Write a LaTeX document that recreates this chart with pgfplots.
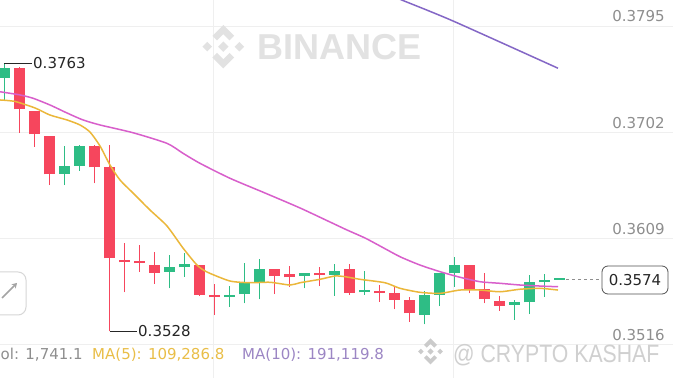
\documentclass[border=0pt]{standalone}
\usepackage{fontspec}
\setmainfont{DejaVu Sans}
\newfontfamily\lib{Liberation Sans}
\usepackage{pgfplots}
\pgfplotsset{compat=1.18}
\usepackage{pgfplotstable}
\usetikzlibrary{arrows.meta}
\definecolor{cred}{HTML}{F6465D}
\definecolor{cgreen}{HTML}{2EBD85}
\definecolor{cma5}{HTML}{EBB73A}
\definecolor{cma10}{HTML}{D85FCB}
\definecolor{cma30}{HTML}{8467C6}
\definecolor{cgrid}{HTML}{EFEFEF}
\definecolor{clab}{HTML}{8E8E8E}
\definecolor{cdark}{HTML}{262626}
\definecolor{cwm}{HTML}{E2E2E2}
\definecolor{ctxt5}{HTML}{E9BE48}
\definecolor{ctxt10}{HTML}{9C86C4}

% k = candle index, o c h l = open close high low
\pgfplotstableread{
k o c h l
1 0.37582 0.37220 0.37590 0.37015
2 0.37208 0.37001 0.37208 0.36893
3 0.36986 0.36651 0.36986 0.36557
6 0.36899 0.36712 0.36905 0.36572
7 0.36717 0.35915 0.36908 0.35280
8 0.35900 0.35880 0.36052 0.35617
9 0.35890 0.35870 0.36032 0.35798
10 0.35856 0.35789 0.35973 0.35690
13 0.35852 0.35594 0.35852 0.35585
14 0.35592 0.35572 0.35687 0.35418
18 0.35819 0.35763 0.35824 0.35602
19 0.35780 0.35749 0.35845 0.35664
21 0.35789 0.35766 0.35836 0.35672
23 0.35819 0.35614 0.35865 0.35594
25 0.35631 0.35608 0.35681 0.35535
26 0.35608 0.35550 0.35666 0.35468
27 0.35550 0.35433 0.35579 0.35360
31 0.35856 0.35644 0.35856 0.35608
32 0.35644 0.35556 0.35784 0.35521
33 0.35541 0.35500 0.35585 0.35456
}\redt
\pgfplotstableread{
k o c h l
0 0.37495 0.37582 0.37630 0.37302
4 0.36654 0.36724 0.36901 0.36557
5 0.36724 0.36901 0.36908 0.36682
11 0.35798 0.35841 0.35944 0.35652
12 0.35836 0.35862 0.35964 0.35754
15 0.35576 0.35596 0.35672 0.35491
16 0.35600 0.35701 0.35877 0.35521
17 0.35705 0.35821 0.35906 0.35556
20 0.35760 0.35782 0.35789 0.35652
22 0.35769 0.35806 0.35865 0.35585
24 0.35617 0.35637 0.35806 0.35594
28 0.35418 0.35594 0.35631 0.35337
29 0.35594 0.35784 0.35789 0.35497
30 0.35784 0.35856 0.35929 0.35666
34 0.35506 0.35535 0.35550 0.35375
35 0.35530 0.35710 0.35769 0.35427
36 0.35705 0.35722 0.35778 0.35579
37 0.35725 0.35740 0.35742 0.35725
}\greent
\pgfplotstableread{
k p
-0.3 0.37302
0.7 0.37289
2.033 0.37232
3.033 0.37170
4.167 0.37127
5.033 0.37083
5.7 0.37021
6.367 0.36899
7.033 0.36732
7.7 0.36601
8.567 0.36487
9.7 0.36338
10.833 0.36198
11.9 0.36005
12.833 0.35856
13.5 0.35795
15.033 0.35716
16.367 0.35701
17.7 0.35705
19.033 0.35681
19.7 0.35701
21.033 0.35731
22.033 0.35760
22.7 0.35754
23.7 0.35731
25.367 0.35701
26.367 0.35652
27.7 0.35617
29.033 0.35608
30.367 0.35637
31.7 0.35637
33.033 0.35622
34.367 0.35644
35.7 0.35652
36.9 0.35637
}\mafive
\pgfplotstableread{
k p
-0.3 0.37374
1.033 0.37346
1.9 0.37317
3.033 0.37258
4.167 0.37188
5.233 0.37127
6.367 0.37083
8.567 0.37015
10.833 0.36922
11.9 0.36835
13.033 0.36747
15.033 0.36616
17.367 0.36487
19.7 0.36356
21.7 0.36233
22.833 0.36163
24.033 0.36093
25.033 0.36023
26.367 0.35929
27.7 0.35856
29.033 0.35798
30.367 0.35749
31.7 0.35710
33.033 0.35696
34.367 0.35681
35.7 0.35672
36.9 0.35666
}\maten
\pgfplotstableread{
k p
25.7 0.38222
26.48 0.38178
29.9 0.37994
36.9 0.37580
}\mathirty

\newcommand\bnlogo{%
  \fill (0,0.24)--(0.24,0)--(0,-0.24)--(-0.24,0)--cycle;
  \fill (-0.74,0.22)--(-0.52,0)--(-0.74,-0.22)--(-0.96,0)--cycle;
  \fill (0.74,0.22)--(0.52,0)--(0.74,-0.22)--(0.96,0)--cycle;
  \fill (0,1)--(0.5,0.5)--(0.29,0.29)--(0,0.58)--(-0.29,0.29)--(-0.5,0.5)--cycle;
  \fill (0,-1)--(0.5,-0.5)--(0.29,-0.29)--(0,-0.58)--(-0.29,-0.29)--(-0.5,-0.5)--cycle;
}

\begin{document}
\begin{tikzpicture}
\useasboundingbox (0,0) rectangle (673bp,378bp);
\fill[white] (0,0) rectangle (673bp,378bp);
% grid (background)
\begin{scope}[shift={(0,378bp)}, x=1bp, y=-1bp]
  \foreach \gy in {26,132.5,238.5,344.5} \draw[cgrid, line width=0.9bp] (0,\gy) -- (673,\gy);
  \foreach \gx in {213.5,453.5} \draw[cgrid, line width=0.9bp] (\gx,0) -- (\gx,378);
\end{scope}
\begin{axis}[
  at={(0,0)}, anchor=south west, scale only axis,
  width=673bp, height=378bp,
  xmin=-0.3, xmax=44.567, ymin=0.348665, ymax=0.381778,
  hide axis,
  clip=true,
]
% wicks
\addplot[draw=none, mark=none, forget plot, error bars/.cd, y dir=plus, y explicit, error mark=none,
  error bar style={draw=cred, line width=1.6bp}]
  table[x=k, y=l, y error plus expr=\thisrow{h}-\thisrow{l}] {\redt};
\addplot[draw=none, mark=none, forget plot, error bars/.cd, y dir=plus, y explicit, error mark=none,
  error bar style={draw=cgreen, line width=1.6bp}]
  table[x=k, y=l, y error plus expr=\thisrow{h}-\thisrow{l}] {\greent};
% bodies
\addplot[draw=none, mark=none, forget plot, error bars/.cd, y dir=plus, y explicit, error mark=none,
  error bar style={draw=cred, line width=11.5bp}]
  table[x=k, y=c, y error plus expr=\thisrow{o}-\thisrow{c}] {\redt};
\addplot[draw=none, mark=none, forget plot, error bars/.cd, y dir=plus, y explicit, error mark=none,
  error bar style={draw=cgreen, line width=11.5bp}]
  table[x=k, y=o, y error plus expr=\thisrow{c}-\thisrow{o}] {\greent};
% moving averages
\addplot[cma5, line width=1.5bp, smooth, tension=0.4, mark=none] table[x=k, y=p] {\mafive};
\addplot[cma10, line width=1.5bp, smooth, tension=0.4, mark=none] table[x=k, y=p] {\maten};
\addplot[cma30, line width=1.5bp, smooth, tension=0.4, mark=none] table[x=k, y=p] {\mathirty};
\end{axis}

\begin{scope}[shift={(0,378bp)}, x=1bp, y=-1bp]
  % watermark BINANCE
  \begin{scope}[shift={(223.3,46.7)}, scale=21.7, cwm]
    \bnlogo
  \end{scope}
  \node[anchor=base west, inner sep=0pt, text=cwm] at (257,59.5)
    {\lib\bfseries\fontsize{36bp}{40bp}\selectfont BINANCE};
  % right price labels
  \begin{scope}[every node/.style={anchor=base east, inner sep=0pt, text=clab,
      font=\fontsize{15bp}{18bp}\selectfont}]
    \node at (665,22) {0.3795};
    \node at (665,128.5) {0.3702};
    \node at (665,234.5) {0.3609};
    \node at (665,340.5) {0.3516};
  \end{scope}
  % high / low markers
  \draw[cdark, line width=0.8bp] (4,63) -- (32,63);
  \node[anchor=west, inner sep=0pt, text=cdark, font=\fontsize{15bp}{18bp}\selectfont] at (33,63) {0.3763};
  \draw[cdark, line width=0.8bp] (109.5,331) -- (137,331);
  \node[anchor=west, inner sep=0pt, text=cdark, font=\fontsize{15bp}{18bp}\selectfont] at (138,331) {0.3528};
  % last price
  \draw[clab, line width=1bp, dash pattern=on 3bp off 3bp] (566,280) -- (601,280);
  \node[draw=cdark!80, line width=0.8bp, rounded corners=6bp, minimum width=66bp, minimum height=28bp,
    inner sep=0pt, text=cdark, font=\fontsize{15bp}{18bp}\selectfont] at (635,280) {0.3574};
  % expand icon
  \draw[cgrid!90!black, line width=1bp, rounded corners=8bp] (-20,272) rectangle (26,315);
  \draw[clab!80, line width=1.5bp, -{Stealth[length=5bp,width=6bp]}] (2,298) -- (17,283);
  % bottom legend
  \begin{scope}[every node/.style={anchor=base west, inner sep=0pt, font=\fontsize{15bp}{18bp}\selectfont}]
    \node[text=clab] at (0.5,360) {ol: 1,741.1};
    \node[text=ctxt5] at (92,360) {MA(5): 109,286.8};
    \node[text=ctxt10] at (242,360) {MA(10): 191,119.8};
  \end{scope}
  % bottom watermark
  \begin{scope}[shift={(430.5,351.5)}, scale=13, cwm!90!black]
    \bnlogo
  \end{scope}
  \node[anchor=base west, inner sep=0pt, text=cwm!92!black] at (453,363)
    {\scalebox{0.85}[1]{\lib\fontsize{25bp}{28bp}\selectfont @ CRYPTO KASHAF}};
\end{scope}
\end{tikzpicture}
\end{document}
